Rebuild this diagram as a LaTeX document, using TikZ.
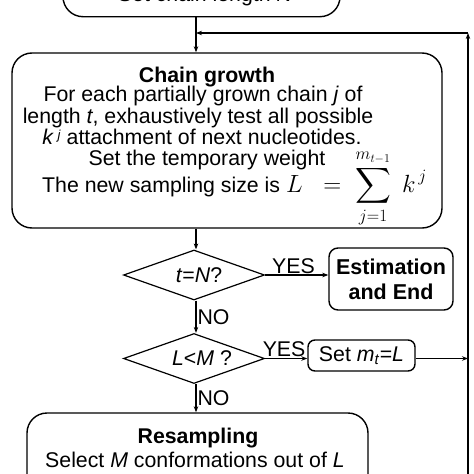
\documentclass[tikz,border=0pt]{standalone}
\usepackage{exscale}
\usepackage{fontspec}
\setmainfont{Liberation Sans}
\usetikzlibrary{shapes.geometric,arrows.meta}
\begin{document}
\begin{tikzpicture}[x=1pt,y=-1pt,
  txt/.style={font=\fontsize{21.3}{21.3}\selectfont, inner sep=0pt},
  box/.style={draw, line width=1.4pt, rounded corners=20pt},
  dia/.style={draw, diamond, line width=1.2pt, minimum width=141pt, minimum height=50pt, inner sep=0pt, aspect=2.8, font=\fontsize{21.3}{21.3}\selectfont},
  conn/.style={line width=1.1pt, -{Stealth[length=6pt,width=4.5pt]}},
  lbl/.style={font=\fontsize{21.3}{21.3}\selectfont, inner sep=1pt}]
\useasboundingbox (0,0) rectangle (474,474);
\fill[white] (0,0) rectangle (474,474);
% top box
\node[box, minimum width=277pt, minimum height=60pt] (init) at (201.5,-13.3) {};
\node[txt, anchor=base] (initt) at (205,1.5) {Set chain length \textit{N}};
% chain growth
\node[box, minimum width=430pt, minimum height=175pt] (chain) at (227,140.5) {};
\node[txt, anchor=base] (c0) at (207,82) {\bfseries Chain growth};
\node[txt, anchor=base] (c1) at (203,101) {For each partially grown chain \textit{j} of};
\node[txt, anchor=base] (c2) at (198,123) {length \textit{t}, exhaustively test all possible};
\node[txt, anchor=base] (c3) at (202,144) {\textit{k}\,\raisebox{5pt}{\fontsize{13}{13}\selectfont\textit{j}} attachment of next nucleotides.};
\node[txt, anchor=base] (c4) at (207,165) {Set the temporary weight};
\node[txt, anchor=base west] (c5) at (42,192) {The new sampling size is \fontsize{24}{24}\selectfont$L\;\;=\;\displaystyle\sum_{j=1}^{m_{t-1}}\;k^{\,j}$};
% decisions
\node[dia] (d1) at (194,275) {\hspace{10pt}\textit{t}=\textit{N}?};
\node[box, rounded corners=9pt, minimum width=124pt, minimum height=62pt, align=center, font=\fontsize{21.5}{25}\selectfont\bfseries] (est) at (391,279) {Estimation\\and End};
\node[dia] (d2) at (194,358.5) {\hspace{16pt}\textit{L}<\textit{M} ?};
\node[box, rounded corners=7pt, minimum width=107pt, minimum height=31pt, font=\fontsize{21.3}{21.3}\selectfont] (set) at (361.5,355.5) {Set \textit{m}\textsubscript{\textit{t}}=\textit{L}};
% resampling
\node[box, minimum width=341pt, minimum height=120pt] (res) at (197.5,473) {};
\node[txt, anchor=base] (r0) at (198,443) {\bfseries Resampling};
\node[txt, anchor=base west] (r1) at (45,467) {Select \textit{M} conformations out of \textit{L}};
% connectors
\coordinate (sp) at (196,0);
\coordinate (fb) at (468,33);
\coordinate (fbb) at (468,480);
\draw[conn] (init.south -| sp) -- (chain.north -| sp);
\draw[conn] (fbb) -- (fb);
\draw[conn] (fb) -- (fb -| sp);
\draw[conn] (chain.south -| sp) -- (d1.north -| sp);
\draw[conn] (d1.east) -- node[lbl, above, pos=0.45] (y1) {YES} (d1.east -| est.west);
\draw[conn] (d1.south -| sp) -- node[lbl, right] (n1) {NO} (d2.north -| sp);
\draw[conn] (d2.east) -- node[lbl, above, pos=0.45] (y2) {YES} (d2.east -| set.west);
\draw[conn] (set.east |- d2) -- (d2 -| fb);
\draw[conn] (d2.south -| sp) -- node[lbl, right] (n2) {NO} (res.north -| sp);
\end{tikzpicture}
\end{document}
